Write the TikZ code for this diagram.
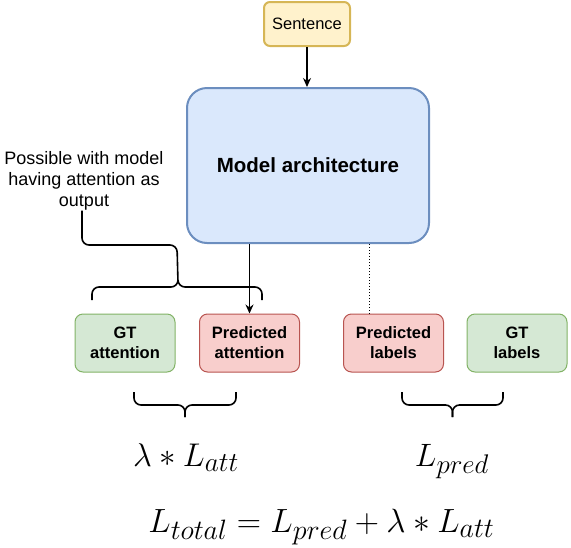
\documentclass[tikz,border=0pt]{standalone}
\usepackage{graphicx}
\usepackage{fontspec}
\setmainfont{Liberation Sans}
\usetikzlibrary{arrows.meta}
\definecolor{yfill}{HTML}{FFF2CC}
\definecolor{ydraw}{HTML}{D6B656}
\definecolor{bfill}{HTML}{DAE8FC}
\definecolor{bdraw}{HTML}{6C8EBF}
\definecolor{gfill}{HTML}{D5E8D4}
\definecolor{gdraw}{HTML}{82B366}
\definecolor{rfill}{HTML}{F8CECC}
\definecolor{rdraw}{HTML}{B85450}
\tikzset{
  smallbox/.style={draw, line width=1pt, rounded corners=8pt, minimum width=100pt, minimum height=58pt, align=center, inner sep=0pt, font=\fontsize{16.5}{20}\selectfont\bfseries},
  gtbox/.style={smallbox, fill=gfill, draw=gdraw},
  predbox/.style={smallbox, fill=rfill, draw=rdraw},
  conn/.style={line width=1.3pt, -{Stealth[length=9pt,width=8pt]}},
  bracepath/.style={line width=1.6pt, rounded corners=7pt},
  mathlabel/.style={inner sep=0pt, anchor=base, font=\fontsize{24.88}{30}\selectfont}
}
\begin{document}
\begin{tikzpicture}[x=1pt,y=-1pt]
\useasboundingbox (0,0) rectangle (571,547);
\node[draw=ydraw, fill=yfill, line width=2pt, rounded corners=6pt, minimum width=86pt, minimum height=44pt, inner sep=0pt, font=\fontsize{16.5}{20}\selectfont] (sent) at (307,24) {Sentence};
\node[draw=bdraw, fill=bfill, line width=2pt, rounded corners=20pt, minimum width=242pt, minimum height=155pt, inner sep=0pt, font=\fontsize{20.5}{24}\selectfont\bfseries] (model) at (308,165.5) {Model architecture};
\node[gtbox] (gtatt) at (125,343) {GT\\attention};
\node[predbox] (predatt) at (249.5,343) {Predicted\\attention};
\node[predbox] (predlab) at (393.5,343) {Predicted\\labels};
\node[gtbox] (gtlab) at (517,343) {GT\\labels};
\node[align=center, inner sep=0pt, font=\fontsize{18}{21}\selectfont] (note) at (84,181) {Possible with model\\having attention as\\output};
\draw[conn] (sent.south) -- (model.north -| sent.south);
\draw[conn] (model.south -| predatt.north) -- (predatt.north);
\draw[line width=1pt, dotted] (model.south -| 369,0) -- (predlab.north -| 369,0);
% upper brace with connector
\coordinate (tip) at (178,283);
\draw[bracepath] (note.south -| 82,0) -- (82,245) -- (177,245) -- (tip);
\draw[bracepath] (92,300) -- (92,287) -- (178,287) -- (tip);
\draw[bracepath] (262,300) -- (262,287) -- (178,287) -- (tip);
% lower braces
\coordinate (lt) at (185,417);
\coordinate (rt) at (452.5,417);
\draw[bracepath] (134,392) -- (134,405) -- (185,405) -- (lt);
\draw[bracepath] (236,392) -- (236,405) -- (185,405) -- (lt);
\draw[bracepath] (402,392) -- (402,405) -- (452.5,405) -- (rt);
\draw[bracepath] (503,392) -- (503,405) -- (452.5,405) -- (rt);
\node[mathlabel] (latt) at (186,466) {\scalebox{1.32}{$\lambda * L_{att}$}};
\node[mathlabel] (lpred) at (452,466) {\scalebox{1.30}{$L_{pred}$}};
\node[mathlabel] (ltot) at (321.5,532) {\scalebox{1.35}{$L_{total} = L_{pred} + \lambda * L_{att}$}};
\end{tikzpicture}
\end{document}
